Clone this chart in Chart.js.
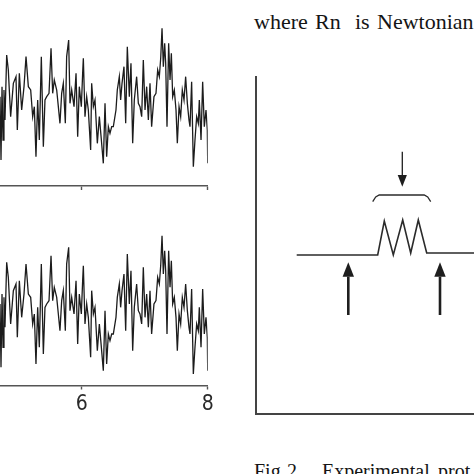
<!DOCTYPE html>
<html>
<head>
<meta charset="utf-8">
<script src="https://cdn.jsdelivr.net/npm/chart.js@4.4.1/dist/chart.umd.min.js"></script>
<style>
  html, body { margin:0; padding:0; background:#fff; }
  body { width:474px; height:474px; overflow:hidden; position:relative; }
  canvas { position:absolute; display:block; }
  .txt { position:absolute; font-family:"Liberation Serif","Times New Roman",serif; font-size:22px; line-height:22px; color:#151515; white-space:nowrap; }
  .cap { font-size:20px; line-height:20px; }
</style>
</head>
<body>
<canvas id="topTrace" width="220" height="200" style="left:0;top:0"></canvas>
<canvas id="bottomTrace" width="220" height="220" style="left:0;top:200px"></canvas>
<canvas id="diagram" width="260" height="370" style="left:240px;top:60px"></canvas>

<div class="txt" style="left:254px;top:11px">where</div>
<div class="txt" style="left:315px;top:11px">Rn</div>
<div class="txt" style="left:355px;top:11px">is</div>
<div class="txt" style="left:377px;top:11px">Newtonian</div>

<div class="txt cap" style="left:254px;top:461px">Fig.</div>
<div class="txt cap" style="left:287px;top:461px">2.</div>
<div class="txt cap" style="left:322px;top:461px">Experimental</div>
<div class="txt cap" style="left:438px;top:461px">prot</div>

<script>
// ---- data: recorded trace (time, amplitude) ----
const times = [
  4.703,4.719,4.735,4.751,4.766,4.782,4.809,4.835,4.872,4.915,
  4.957,4.978,5.010,5.047,5.084,5.116,5.153,5.190,5.222,5.248,
  5.274,5.301,5.327,5.359,5.391,5.417,5.444,5.481,5.513,5.539,
  5.565,5.603,5.629,5.655,5.682,5.708,5.740,5.761,5.793,5.814,
  5.841,5.878,5.910,5.936,5.962,5.994,6.015,6.026,6.052,6.079,
  6.105,6.142,6.158,6.185,6.211,6.248,6.280,6.312,6.343,6.370,
  6.396,6.423,6.449,6.476,6.502,6.544,6.565,6.597,6.618,6.640,
  6.671,6.698,6.724,6.756,6.782,6.809,6.835,6.872,6.899,6.925,
  6.952,6.978,7.005,7.031,7.058,7.084,7.110,7.147,7.179,7.206,
  7.232,7.254,7.275,7.296,7.317,7.333,7.354,7.380,7.402,7.423,
  7.444,7.470,7.497,7.518,7.545,7.571,7.597,7.624,7.650,7.677,
  7.703,7.719,7.745,7.772,7.798,7.825,7.851,7.867,7.894,7.920,
  7.946,7.973,7.994,8.000
];
const signal = [
  2.10,0.20,2.40,0.80,2.30,1.40,3.35,2.90,1.50,2.50,
  2.70,1.10,2.80,1.70,2.40,3.30,2.40,2.30,1.50,1.80,
  0.30,2.00,0.80,3.30,0.60,2.00,2.10,2.20,3.55,2.20,
  2.60,2.30,1.80,1.30,2.20,2.50,1.30,3.30,3.80,1.90,
  2.30,1.80,2.80,0.90,2.40,1.80,2.80,3.25,1.50,2.10,
  1.70,0.50,2.50,1.80,2.00,0.70,1.50,0.80,0.10,1.90,
  0.30,1.20,1.00,1.20,1.20,1.70,2.30,2.70,2.00,2.50,
  3.00,1.30,3.60,2.10,3.10,0.70,2.00,2.70,1.90,1.80,
  1.50,3.20,1.70,2.40,1.40,2.50,1.20,2.10,2.20,2.90,
  2.70,3.25,4.15,3.00,3.70,3.10,1.20,3.70,2.60,3.40,
  2.10,2.30,1.70,0.70,1.80,1.50,2.30,2.00,2.70,1.90,
  1.40,1.20,2.55,0.00,0.80,1.50,1.30,2.00,0.80,2.55,
  1.20,1.70,1.10,0.10
];
const xTicks = [6, 8];
const xRange = [4.703, 8];

// ---- diagram (schematic) geometry in diagram units ----
const wireX = [4.1, 12.2, 12.86, 13.76, 14.7, 15.5, 16.26, 17.1, 23];
const wireY = [15.9, 15.9, 19.3, 15.9, 19.4, 16.1, 19.4, 16.1, 16.1];
const bracketX = [11.7, 12.0, 12.35, 16.85, 17.2, 17.5];
const bracketY = [21.23, 21.7, 21.9, 21.9, 21.7, 21.23];
const arrowX = [14.66, 9.26, 18.43];
const arrowTail = [26.23, 9.9, 9.9];
const arrowTip = [22.73, 15.17, 15.17];

const tickFont = { family: '"Liberation Sans Narrow","DejaVu Sans Condensed","Liberation Sans",Arial,sans-serif', size: 21 };

function traceChart(id, yMin, yMax, showLabels, axisHeight) {
  return new Chart(document.getElementById(id), {
    type: 'line',
    data: {
      datasets: [{
        data: times.map((t, i) => ({ x: t, y: signal[i] })),
        borderColor: '#1c1c1c', borderWidth: 1.3, pointRadius: 0, tension: 0, fill: false
      }]
    },
    options: {
      animation: false, responsive: false, devicePixelRatio: 1,
      layout: { padding: { left: 0, right: 12.3, top: 0, bottom: 0 } },
      plugins: { legend: { display: false }, tooltip: { enabled: false } },
      scales: {
        x: {
          type: 'linear', min: xRange[0], max: xRange[1],
          afterBuildTicks: s => { s.ticks = xTicks.map(v => ({ value: v })); },
          afterFit: s => { s.height = axisHeight; },
          border: { display: true, color: '#555', width: 1.6 },
          grid: { display: true, drawOnChartArea: false, drawTicks: true, tickLength: 4, tickColor: '#555', tickWidth: 1.4 },
          ticks: { display: showLabels, padding: 2, color: '#2a2a2a', font: tickFont, maxRotation: 0, autoSkip: false }
        },
        y: { display: false, min: yMin, max: yMax }
      }
    }
  });
}

traceChart('topTrace', -0.58, 5.0, false, 14);
traceChart('bottomTrace', -0.345, 5.22, true, 34.5);

const arrowPlugin = {
  id: 'arrows',
  afterDatasetsDraw(chart) {
    const { ctx, scales: { x, y } } = chart;
    const style = [
      { head: 11.7, half: 4.6, width: 1.3 },
      { head: 14.4, half: 5.7, width: 2.6 },
      { head: 14.4, half: 5.7, width: 2.6 }
    ];
    ctx.save();
    ctx.fillStyle = '#1e1e1e';
    ctx.strokeStyle = '#1e1e1e';
    arrowX.forEach((ax, i) => {
      const px = x.getPixelForValue(ax);
      const tail = y.getPixelForValue(arrowTail[i]);
      const tip = y.getPixelForValue(arrowTip[i]);
      const dir = tip > tail ? 1 : -1;
      const base = tip - dir * style[i].head;
      ctx.lineWidth = style[i].width;
      ctx.beginPath();
      ctx.moveTo(px, tail);
      ctx.lineTo(px, base);
      ctx.stroke();
      ctx.beginPath();
      ctx.moveTo(px, tip);
      ctx.lineTo(px - style[i].half, base);
      ctx.lineTo(px + style[i].half, base);
      ctx.closePath();
      ctx.fill();
    });
    ctx.restore();
  }
};

new Chart(document.getElementById('diagram'), {
  type: 'scatter',
  data: {
    datasets: [
      { data: wireX.map((v, i) => ({ x: v, y: wireY[i] })), showLine: true, borderColor: '#2b2b2b', borderWidth: 1.6, pointRadius: 0, tension: 0 },
      { data: bracketX.map((v, i) => ({ x: v, y: bracketY[i] })), showLine: true, borderColor: '#2b2b2b', borderWidth: 1.3, pointRadius: 0, tension: 0 }
    ]
  },
  options: {
    animation: false, responsive: false, devicePixelRatio: 1,
    layout: { padding: { left: 15.7, right: 4.3, top: 17, bottom: 16 } },
    plugins: { legend: { display: false }, tooltip: { enabled: false } },
    scales: {
      x: { type: 'linear', min: 0, max: 24, afterFit: s => { s.height = 0; },
           ticks: { display: false }, grid: { display: false },
           border: { display: true, color: '#444', width: 2 } },
      y: { type: 'linear', min: 0, max: 33.7, afterFit: s => { s.width = 0; },
           ticks: { display: false }, grid: { display: false },
           border: { display: true, color: '#444', width: 2 } }
    }
  },
  plugins: [arrowPlugin]
});
</script>
</body>
</html>
